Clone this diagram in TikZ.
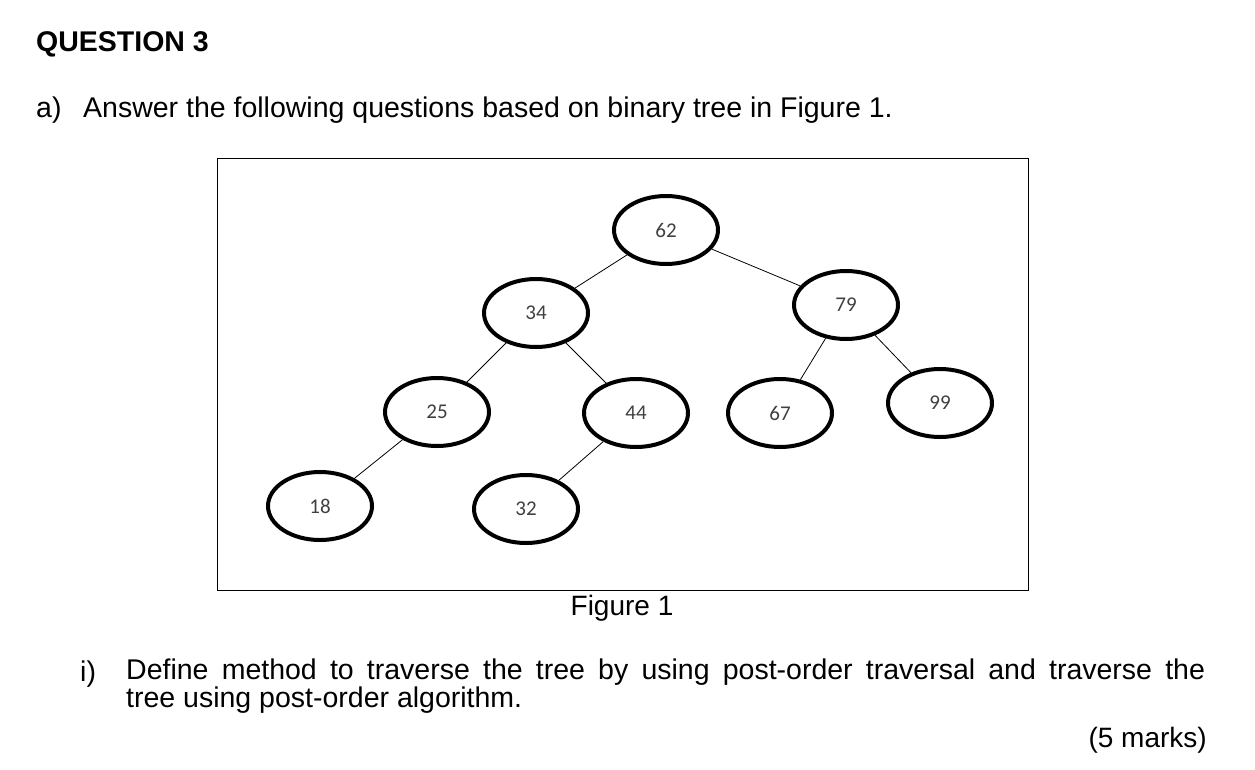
\documentclass[tikz,border=0pt]{standalone}
\usepackage{fontspec}
\setmainfont{Liberation Sans}
\newfontfamily\numfont{Carlito}
\usetikzlibrary{shapes.geometric}
\begin{document}
\begin{tikzpicture}[x=1pt,y=-1pt,
  tn/.style={ellipse,draw,line width=4pt,minimum width=104pt,minimum height=68pt,inner sep=0pt,font=\numfont\fontsize{21}{24}\selectfont,text=black!75},
  edge/.style={line width=0.8pt},
  txt/.style={anchor=west,inner sep=0pt,font=\fontsize{28.5}{33}\selectfont}]
\useasboundingbox (0,0) rectangle (1255,769);
\node[txt,font=\bfseries\fontsize{28.5}{33}\selectfont] (q) at (36,44) {QUESTION 3};
\node[txt] (a) at (36,110) {a)};
\node[txt] (a2) at (83,110) {Answer the following questions based on binary tree in Figure 1.};
\node[draw,line width=0.8pt,minimum width=811pt,minimum height=432pt,anchor=north west,inner sep=0pt] (box) at (217,158) {};
\node[tn] (n62) at (666,230) {62};
\node[tn] (n34) at (536,313) {34};
\node[tn] (n79) at (846,305) {79};
\node[tn] (n25) at (437,412) {25};
\node[tn] (n44) at (636,413) {44};
\node[tn] (n67) at (780,413) {67};
\node[tn] (n99) at (940,403) {99};
\node[tn] (n18) at (320,506) {18};
\node[tn] (n32) at (526,509) {32};
\draw[edge] (n62)--(n34); \draw[edge] (n62)--(n79);
\draw[edge] (n34)--(n25); \draw[edge] (n34)--(n44);
\draw[edge] (n79)--(n67); \draw[edge] (n79)--(n99);
\draw[edge] (n25)--(n18); \draw[edge] (n44)--(n32);
\node[font=\fontsize{28}{33}\selectfont,inner sep=0pt] (fig) at (622,608) {Figure 1};
\node[txt] (i) at (80,674) {i)};
\node[txt,align=left,anchor=north west] (d) at (126,659) {Define\hspace{13.2pt}method\hspace{13.2pt}to\hspace{13.2pt}traverse\hspace{13.2pt}the\hspace{13.2pt}tree\hspace{13.2pt}by\hspace{13.2pt}using\hspace{13.2pt}post-order\hspace{13.2pt}traversal\hspace{13.2pt}and\hspace{13.2pt}traverse\hspace{13.2pt}the\\[-5pt]tree using post-order algorithm.};
\node[font=\fontsize{28}{33}\selectfont,inner sep=0pt,anchor=east] (m) at (1207,740) {(5 marks)};
\end{tikzpicture}
\end{document}
